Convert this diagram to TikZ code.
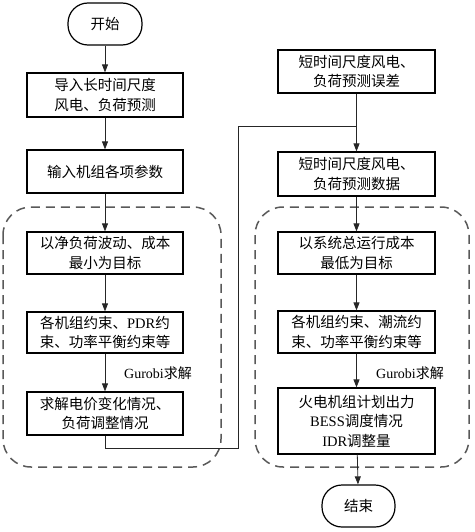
\documentclass[tikz,border=0pt]{standalone}
\usepackage{fontspec}
\setmainfont{Noto Sans CJK SC}
\newfontfamily\lat{Liberation Serif}
\usetikzlibrary{arrows.meta}
\begin{document}
\begin{tikzpicture}[x=1pt,y=-1pt,
  every node/.style={font=\fontsize{14.5}{19.5}\selectfont},
  box/.style={draw=black,line width=1.2pt,minimum width=156pt,align=center,inner sep=0pt},
  term/.style={draw=black,line width=1.2pt,rounded corners=20pt,minimum width=74pt,minimum height=42pt,inner sep=0pt},
  frame/.style={draw=black!65,line width=1.5pt,dash pattern=on 9pt off 6pt,rounded corners=28pt},
  conn/.style={draw=black!85,line width=0.8pt},
  arr/.style={conn,-{Triangle[length=8pt,width=6pt]}},
  lbl/.style={font=\fontsize{14}{16}\selectfont}]
\useasboundingbox (0,0) rectangle (474,532);
% frames
\draw[frame] (3,207) rectangle (221,467);
\draw[frame] (255,207) rectangle (469,467);
% left column
\node[term] (start) at (105,24) {开始};
\node[box,minimum height=44pt] (b1) at (105,95) {导入长时间尺度\\风电、负荷预测};
\node[box,minimum height=43pt] (b2) at (105,171.5) {输入机组各项参数};
\node[box,minimum height=42pt] (b3) at (105,253) {以净负荷波动、成本\\最小为目标};
\node[box,minimum height=41pt] (b4) at (105,332.5) {各机组约束、{\lat PDR}约\\束、功率平衡约束等};
\node[box,minimum height=43pt] (b5) at (105,413.5) {求解电价变化情况、\\负荷调整情况};
\node[lbl] (g1) at (158,373) {{\lat Gurobi}求解};
% right column
\node[box,minimum width=157pt,minimum height=43pt] (r1) at (356.5,71.5) {短时间尺度风电、\\负荷预测误差};
\node[box,minimum width=157pt,minimum height=44pt] (r2) at (356.5,174) {短时间尺度风电、\\负荷预测数据};
\node[box,minimum width=157pt,minimum height=42pt] (r3) at (356.5,253) {以系统总运行成本\\最低为目标};
\node[box,minimum width=157pt,minimum height=42pt] (r4) at (356.5,332) {各机组约束、潮流约\\束、功率平衡约束等};
\node[box,minimum width=157pt,minimum height=66pt] (r5) at (356.5,421) {火电机组计划出力\\{\lat BESS}调度情况\\{\lat IDR}调整量};
\node[lbl] (g2) at (410,373) {{\lat Gurobi}求解};
\node[term,minimum width=73pt] (end) at (358.5,506) {结束};
% connectors
\coordinate (j) at (356.5,126);
\coordinate (k) at (238,448);
\draw[arr] (start) -- (b1);
\draw[arr] (b1) -- (b2);
\draw[arr] (b2) -- (b3);
\draw[arr] (b3) -- (b4);
\draw[arr] (b4) -- (b5);
\draw[conn] (b5.south) |- (k) |- (j);
\draw[arr] (r1) -- (r2);
\draw[arr] (r2) -- (r3);
\draw[arr] (r3) -- (r4);
\draw[arr] (r4) -- (r5);
\draw[arr] (r5) -- (end);
\end{tikzpicture}
\end{document}
